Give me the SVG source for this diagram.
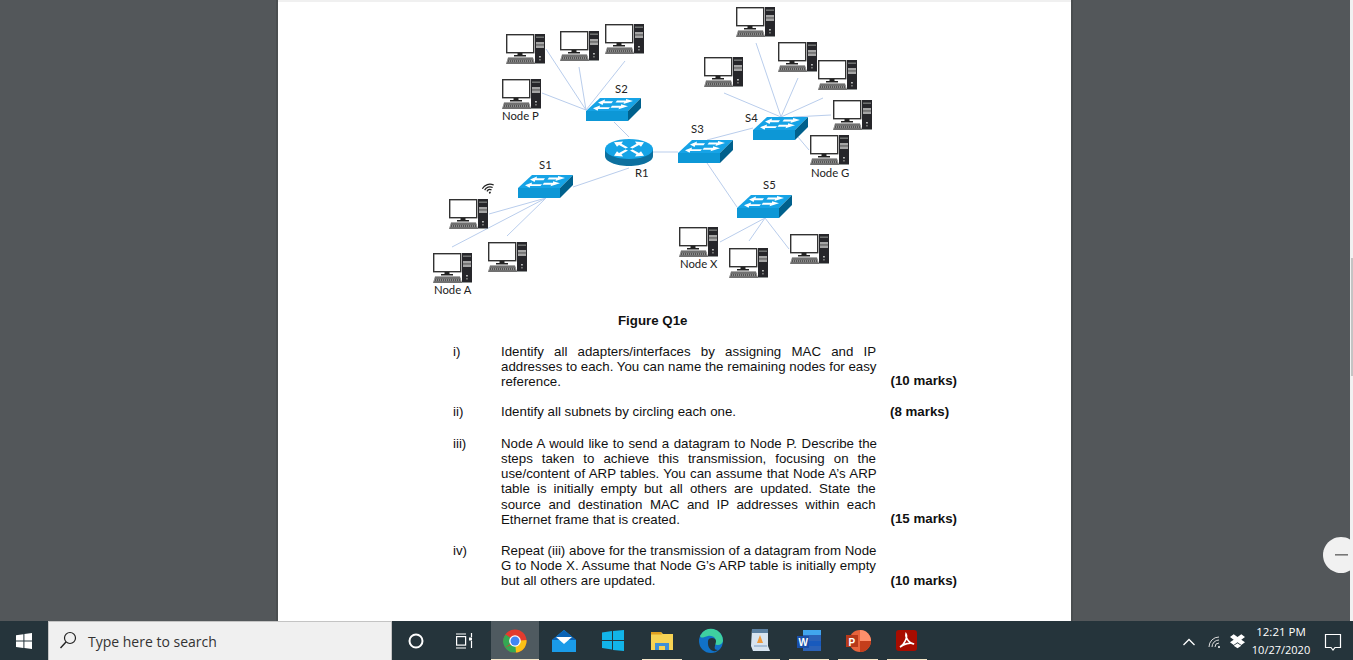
<svg xmlns="http://www.w3.org/2000/svg" width="1353" height="660" viewBox="0 0 1353 660">
<style>
.bg{fill:#53575a}
.c{fill:none;stroke:#b9cdec;stroke-width:1}
.lb{font-family:"Lato","Noto Sans",sans-serif;font-size:11.3px;fill:#222}
.t{font-family:"Liberation Sans",Arial,sans-serif;font-size:13.3px;fill:#111}
.b{font-weight:bold}
.ui{font-family:"Open Sans","Noto Sans",sans-serif;fill:#fff}
use{filter:url(#soft)}
</style>
<defs>
<filter id="soft" x="-5%" y="-5%" width="110%" height="110%"><feGaussianBlur stdDeviation="0.35"/></filter>
<g id="pc">
<rect x="0.7" y="0.7" width="27" height="18" fill="#fff" stroke="#333" stroke-width="1.4"/>
<rect x="11.5" y="19" width="5" height="2.5" fill="#222"/>
<rect x="8" y="21" width="12" height="1.5" fill="#222"/>
<path d="M2,23.5H27L29,30H0Z" fill="#555"/>
<path d="M1.5,25H27.5M1,27H28M.5,29H28.5" stroke="#ddd" stroke-width=".8" stroke-dasharray="1 1" fill="none"/>
<rect x="29" y="0" width="10" height="29.5" fill="#26282a"/>
<rect x="30" y="2.5" width="8" height="1.4" fill="#777"/>
<rect x="30" y="8" width="8" height="6" fill="#a5a5a5"/>
<rect x="30" y="10.5" width="8" height=".9" fill="#444"/>
<rect x="33.2" y="22" width="1.5" height="1.5" fill="#ddd"/>
<rect x="33.2" y="25" width="1.5" height="1.5" fill="#888"/>
</g>
<g id="sw">
<path d="M0,13L14,0H55L42,13Z" fill="#16a3e6"/>
<rect x="0" y="13" width="42" height="10" fill="#0d97d6"/>
<path d="M42,13L55,0V10L42,23Z" fill="#02608c"/>
<path d="M12,4.5L19,1.6L18.6,3.3H27L25.5,5.2H17.2L16.6,7Z" fill="#fff"/>
<path d="M47,3L40,.9L40,2.4H31L29.5,4.4H38.2L37.4,6Z" fill="#fff"/>
<path d="M7,10.3L14,7.4L13.6,9.2H24L22.5,11H12.2L11.6,12.8Z" fill="#fff"/>
<path d="M42,8.3L35,6.2L35,7.7H26L24.5,9.7H33.2L32.4,11.3Z" fill="#fff"/>
</g>
<g id="rt">
<path d="M0,10V17C0,22.5,10.7,27,24,27S48,22.5,48,17V10Z" fill="#08709f"/>
<ellipse cx="24" cy="10" rx="24" ry="10" fill="#14a4e6"/>
<g fill="#fff">
<path d="M9,3.2L18,2.6L16.5,4.8L23,8.6L20.5,9.6L14,6L12,7.800Z"/>
<path d="M39,3.200L30,2.600L31.500,4.800L25,8.600L27.500,9.600L34,6L36,7.800Z"/>
<path d="M9,16.800L18,17.400L16.500,15.200L23,11.400L20.500,10.400L14,14L12,12.200Z"/>
<path d="M39,16.800L30,17.400L31.500,15.200L25,11.400L27.500,10.400L34,14L36,12.200Z"/>
</g>
</g>
</defs>
<g id="backdrop">
<rect class="bg" x="0" y="0" width="1353" height="660"/>
<rect x="276" y="0" width="2" height="621" fill="#4a4e50"/>
<rect x="1071" y="0" width="2" height="621" fill="#4a4e50"/>
<rect x="278" y="0" width="793" height="621" fill="#fff"/>
<rect x="278" y="0" width="793" height="2" fill="#f0f0f0"/>
<rect x="1350" y="0" width="3" height="621" fill="#f1f1f1"/>
<rect x="1351" y="258" width="2" height="118" fill="#c4c4c4"/>
</g>
<g id="connectors" class="c">
<path class="c" d="M546,49L586,110M579,67L586,110M625,61L586,110M542,93L586,110M614,122L629,137"/>
<path class="c" d="M756,43L781,117M798,78L781,117M823,98L781,117M724,93L781,117M831,115L793,117M798,137L809,150"/>
<path class="c" d="M707,140L753,128M653,152L678,152M707,163L737,207"/>
<path class="c" d="M629,168L573,187M546,198L489,214M546,198L452,247M546,198L507,236"/>
<path class="c" d="M765,218L720,242M765,218L749,241M765,218L789,249"/>
</g>
<g id="pc1"><use href="#pc" x="506" y="34"/></g>
<g id="pc2"><use href="#pc" x="560" y="31"/></g>
<g id="pc3"><use href="#pc" x="605" y="24"/></g>
<g id="nodeP"><use href="#pc" x="502" y="79"/><text class="lb" x="502" y="120">Node P</text></g>
<g id="pc4"><use href="#pc" x="736" y="7"/></g>
<g id="pc5"><use href="#pc" x="778" y="42"/></g>
<g id="pc6"><use href="#pc" x="704" y="57"/></g>
<g id="pc7"><use href="#pc" x="818" y="60"/></g>
<g id="pc8"><use href="#pc" x="833" y="100"/></g>
<g id="nodeG"><use href="#pc" x="810" y="135"/><text class="lb" x="811" y="177">Node G</text></g>
<g id="pc9"><use href="#pc" x="449" y="199"/></g>
<g id="nodeA"><use href="#pc" x="433" y="253"/><text class="lb" x="434" y="294">Node A</text></g>
<g id="pc10"><use href="#pc" x="488" y="242"/></g>
<g id="nodeX"><use href="#pc" x="679" y="227"/><text class="lb" x="680" y="268">Node X</text></g>
<g id="pc11"><use href="#pc" x="729" y="248"/></g>
<g id="pc12"><use href="#pc" x="790" y="234"/></g>
<g id="S2"><use href="#sw" x="586" y="98"/><text class="lb" x="615" y="93">S2</text></g>
<g id="S4"><use href="#sw" x="753" y="117"/><text class="lb" x="745" y="122">S4</text></g>
<g id="S3"><use href="#sw" x="678" y="140"/><text class="lb" x="691" y="133">S3</text></g>
<g id="S1"><use href="#sw" x="518" y="175"/><text class="lb" x="539" y="169">S1</text></g>
<g id="S5"><use href="#sw" x="737" y="195"/><text class="lb" x="763" y="189">S5</text></g>
<g id="R1"><use href="#rt" x="605" y="139"/><text class="lb" x="635" y="177">R1</text></g>
<g id="wifi" fill="none" stroke="#222" stroke-width="1.2" transform="rotate(-18 490 193)">
<path d="M487.6,190.5a3.4,3.4 0 0 1 4.8,0M485.8,188.6a6,6 0 0 1 8.4,0M484,186.6a8.6,8.6 0 0 1 12,0"/>
<circle cx="490" cy="192.6" r="1" fill="#222" stroke="none"/>
</g>
<g id="document">
<text class="t b" x="618" y="325">Figure Q1e</text>
<text class="t" x="453" y="356">i)</text>
<text class="t" x="501" y="356" word-spacing="6.5">Identify all adapters/interfaces by assigning MAC and IP</text>
<text class="t" x="501" y="371" word-spacing="0">addresses to each. You can name the remaining nodes for easy</text>
<text class="t" x="501" y="386">reference.</text>
<text class="t b" x="890.500" y="385">(10 marks)</text>
<text class="t" x="453" y="416">ii)</text>
<text class="t" x="501" y="416">Identify all subnets by circling each one.</text>
<text class="t b" x="890" y="416">(8 marks)</text>
<text class="t" x="453" y="448">iii)</text>
<text class="t" x="501" y="448" word-spacing="0.8">Node A would like to send a datagram to Node P. Describe the</text>
<text class="t" x="501" y="463" word-spacing="5.3">steps taken to achieve this transmission, focusing on the</text>
<text class="t" x="501" y="478" word-spacing="0.6">use/content of ARP tables. You can assume that Node A’s ARP</text>
<text class="t" x="501" y="493" word-spacing="3.4">table is initially empty but all others are updated. State the</text>
<text class="t" x="501" y="509" word-spacing="3.8">source and destination MAC and IP addresses within each</text>
<text class="t" x="501" y="524">Ethernet frame that is created.</text>
<text class="t b" x="890.500" y="523">(15 marks)</text>
<text class="t" x="453" y="555">iv)</text>
<text class="t" x="501" y="555">Repeat (iii) above for the transmission of a datagram from Node</text>
<text class="t" x="501" y="570" word-spacing="0.25">G to Node X. Assume that Node G’s ARP table is initially empty</text>
<text class="t" x="501" y="585">but all others are updated.</text>
<text class="t b" x="890.500" y="585">(10 marks)</text>
</g>
<g id="zoom-button">
<path d="M1350,539.400A18,18 0 1 0 1350,570.600Z" fill="#f1f1f1"/>
<rect x="1335" y="554" width="13" height="1.6" fill="#777"/>
</g>
<g id="taskbar">
<rect x="0" y="621" width="1353" height="39" fill="#25343b"/>
<rect x="48" y="621" width="344" height="39" fill="#f0f0f0"/>
<rect x="48" y="621" width="344" height="1" fill="#c4c4c4"/>
<rect x="48" y="621" width="1" height="39" fill="#c4c4c4"/>
<rect x="391" y="621" width="1" height="39" fill="#c4c4c4"/>
<path d="M16,635.2L23.4,634.2V640.6H16ZM24.4,634L32,633V640.6H24.4ZM16,641.6H23.4V648L16,647ZM24.4,641.6H32V649L24.4,648Z" fill="#fff"/>
<g fill="none" stroke="#222"><circle cx="70" cy="638" r="5.5" stroke-width="1.2"/><path d="M66,642L60.5,648" stroke-width="1.4"/></g>
<text x="88" y="647" font-family="'Open Sans','Noto Sans',sans-serif" font-size="14" fill="#333">Type here to search</text>
<circle cx="416" cy="641" r="6.5" fill="none" stroke="#fff" stroke-width="2"/>
<g fill="none" stroke="#fff" stroke-width="1.2"><path d="M456,634H466M456,648H466"/><rect x="456.6" y="636.6" width="9" height="8.5"/><path d="M471.5,633V637M471.500,641V648"/></g>
<rect x="469" y="637.5" width="3" height="3" fill="#fff"/>
<rect x="491" y="621" width="48" height="39" fill="#4f5a60"/>
<g fill="#f5e6c8"><rect x="491" y="659" width="48" height="1"/><rect x="642" y="659" width="40" height="1"/><rect x="740" y="659" width="40" height="1"/><rect x="789" y="659" width="40" height="1"/><rect x="838" y="659" width="40" height="1"/><rect x="887" y="659" width="40" height="1"/></g>
<g id="chrome"><circle cx="515" cy="641" r="11.5" fill="#e33b2e"/><path d="M515,641L505,647.5A11.5,11.5 0 0 1 505.500,634.500Z" fill="#34a853"/><path d="M505,647.500A11.500,11.500 0 0 0 516,652.500L521,641Z" fill="#34a853"/><path d="M515,641L526.500,640A11.500,11.500 0 0 1 516,652.500Z" fill="#fbc116"/><circle cx="515" cy="641" r="5.800" fill="#fff"/><circle cx="515" cy="641" r="4.500" fill="#4285f4"/></g>
<g id="mail"><path d="M552,640L564,630L576,640V652H552Z" fill="#1a9be8"/><path d="M552,640L564,630L576,640L564,640Z" fill="#0b63b5"/><path d="M556,637H572L564,644Z" fill="#fff"/></g>
<g id="store" fill="#12b4e8"><path d="M602,632.500L612,631V640H602ZM613,631L624,630V640H613ZM602,641H612V649.500L602,648ZM613,641H624V651L613,650Z"/></g>
<g id="folder"><path d="M651,632H661L663,634H673V650H651Z" fill="#f7d354"/><path d="M651,632H661L662,634.500H651Z" fill="#e0a020"/><path d="M655,650V643H669V650H665V646H659V650Z" fill="#3f8fd6"/></g>
<g id="edge"><circle cx="711" cy="641" r="12" fill="#1172c8"/><path d="M700,636A12,12 0 0 1 723,641C722,645 718,646 714,644C718,640 714,635 708,636C704,637 701,639 700,636Z" fill="#3fd0a0"/><path d="M708,641C708,637 716,637 716,641C716,645 712,650 718,650C714,653 707,650 708,641Z" fill="#25343b"/></g>
<g id="publisher"><path d="M752,629H768V646L770,651H753L751,646Z" fill="#d7e4f0"/><path d="M752,629H768V633H752Z" fill="#5a7fa0"/><path d="M757,643L760,635L763,643Z" fill="#ee9a3c"/><path d="M754,646H767" stroke="#7a9bc0" fill="none"/></g>
<g id="word"><rect x="803" y="630" width="18" height="21" fill="#2b62b8"/><rect x="803" y="630" width="18" height="5" fill="#41a5ee"/><rect x="803" y="641" width="18" height="5" fill="#185abd"/><rect x="797" y="636" width="12" height="12" fill="#1a4fa8"/><text x="798.500" y="646" font-family="'Liberation Sans',sans-serif" font-size="10" font-weight="bold" fill="#fff">W</text></g>
<g id="powerpoint"><circle cx="860" cy="641" r="11" fill="#e8643c"/><path d="M860,641V630A11,11 0 0 1 871,641Z" fill="#ff8f6b"/><path d="M860,641H871A11,11 0 0 1 860,652Z" fill="#c43e1c"/><rect x="846" y="635" width="12" height="12" fill="#b7391a"/><text x="848.500" y="645.500" font-family="'Liberation Sans',sans-serif" font-size="10" font-weight="bold" fill="#fff">P</text></g>
<g id="acrobat"><rect x="896" y="630" width="21" height="21" rx="3" fill="#a80c00"/><path d="M900,647C904,645 908,637 906,634C905,638 910,644 914,644C910,642 904,644 900,647Z" fill="none" stroke="#fff" stroke-width="1.600"/></g>
<path d="M1183.500,645L1189,639.500L1194.500,645" fill="none" stroke="#fff" stroke-width="1.300"/>
<g id="wifi-tray" fill="none" stroke="#ddd" stroke-width="1"><path d="M1209,647A10,10 0 0 1 1219,637M1212,647A7,7 0 0 1 1219,640M1215,647A4,4 0 0 1 1219,643"/><circle cx="1219" cy="647" r="1" fill="#fff" stroke="none"/></g>
<path d="M1230,637L1233.700,634.200L1237.500,637L1241.300,634.200L1245,637L1241.300,639.700L1245,642.300L1241.300,645L1237.500,642.300L1233.700,645L1230,642.300L1233.700,639.700ZM1233.700,645.800L1237.500,643.300L1241.300,645.800L1237.500,648.300Z" fill="#fff"/>
<text class="ui" x="1281" y="636" text-anchor="middle" font-size="11.500">12:21 PM</text>
<text class="ui" x="1281" y="654" text-anchor="middle" font-size="11">10/27/2020</text>
<path d="M1325.500,634.500H1340.500V647.500H1335L1333,650L1331,647.500H1325.500Z" fill="none" stroke="#fff" stroke-width="1.200"/>
</g>
</svg>
